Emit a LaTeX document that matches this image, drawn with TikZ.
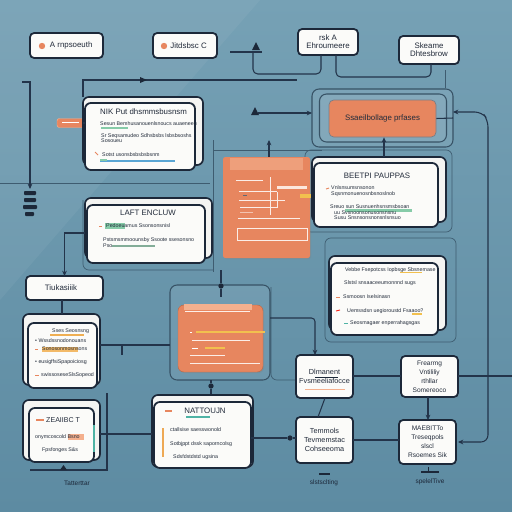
\documentclass[tikz,border=0pt]{standalone}
\usepackage{fontspec}
\setmainfont{Liberation Sans}
\usetikzlibrary{arrows.meta,shadows}
\definecolor{bgA}{HTML}{76A1B5}
\definecolor{bgB}{HTML}{5D8BA2}
\definecolor{navy}{HTML}{1C2839}
\definecolor{org}{HTML}{E7865F}
\definecolor{orgL}{HTML}{F4B08E}
\definecolor{card}{HTML}{FBFBF9}
\definecolor{txt}{HTML}{222B3A}
\definecolor{hlg}{HTML}{86CBA8}
\definecolor{hlb}{HTML}{5AA6D4}
\definecolor{hly}{HTML}{F2C04E}
\definecolor{tealc}{HTML}{4FB3A5}
\definecolor{lineC}{HTML}{23344A}
\definecolor{frameC}{HTML}{3E5C70}
\newcommand\ftitle{\fontsize{6.7}{7.7}\selectfont}
\newcommand\fsmall{\fontsize{4.5}{5.2}\selectfont}
\newcommand\mycard[9]{%
  \node[backc, minimum width={(#8-#6)*0.85pt}, minimum height={(#9-#7)*0.85pt}] (#1b) at ({(#6+#8)/2},{(#7+#9)/2}) {};
  \node[frontc, minimum width={(#4-#2)*0.85pt}, minimum height={(#5-#3)*0.85pt}] (#1) at ({(#2+#4)/2},{(#3+#5)/2}) {};}
\newcommand\mybox[6]{%
  \node[wbox, minimum width={(#4-#2)*0.85pt}, minimum height={(#5-#3)*0.85pt}] (#1) at ({(#2+#4)/2},{(#3+#5)/2}) {#6};}
\tikzset{
  wbox/.style={draw=navy, line width=1.5pt, fill=card, rounded corners=3.5pt, inner sep=0pt, outer sep=0pt, align=center, text=txt, font=\ftitle, drop shadow={opacity=0.25, shadow xshift=1pt, shadow yshift=-1pt}},
  backc/.style={draw=navy, line width=1.4pt, fill=card!94!gray, rounded corners=5pt, inner sep=0pt, outer sep=0pt, drop shadow={opacity=0.2, shadow xshift=1pt, shadow yshift=-1pt}},
  frontc/.style={draw=navy, line width=1.5pt, fill=card, rounded corners=5pt, inner sep=0pt, outer sep=0pt},
  tl/.style={anchor=west, inner sep=0pt, text=txt, font=\fsmall},
  ttl/.style={inner sep=0pt, text=txt, font=\ftitle},
  lbl/.style={inner sep=0pt, text=navy, font=\fontsize{5.5}{6}\selectfont},
  con/.style={draw=lineC, line width=0.9pt},
  arr/.style={con, -{Stealth[length=4.5pt,width=4pt]}},
  frm/.style={draw=frameC, line width=0.6pt, rounded corners=5pt},
  frmnode/.style={draw=frameC!80!navy, line width=0.9pt, rounded corners=6pt, fill=white, fill opacity=0.07, inner sep=0pt, outer sep=0pt},
  docl/.style={draw=white!85!org, line width=0.7pt},
  dotn/.style={circle, fill=navy, inner sep=0pt, minimum size=4.5pt},
}
\begin{document}
\begin{tikzpicture}[x=0.85pt,y=-0.85pt]
\useasboundingbox (0,0) rectangle (512,512);
\shade[top color=bgA, bottom color=bgB] (0,0) rectangle (512,512);
\fill[white, opacity=0.05] (0,0) -- (260,0) -- (0,300) -- cycle;

% ---------- background frames ----------
\draw[frm] (0,183) -- (210,183);
\draw[frm] (213,140) -- (213,272);
\draw[frm] (83,200) -- (83,270) -- (213,270);
\draw[frm] (213,150) -- (322,150);
\draw[frm] (305,150) rectangle (452,232);
\draw[frm] (325,238) rectangle (456,342);
\draw[frm] (271,287) -- (271,380) -- (330,380);
\draw[frm] (445,70) -- (445,88);
\node[frmnode, minimum width={141*0.85pt}, minimum height={58*0.85pt}] (fssa) at (382.5,118) {};
\node[frmnode, minimum width={127*0.85pt}, minimum height={48*0.85pt}] (fssa2) at (383,118) {};
\node[frmnode, minimum width={100*0.85pt}, minimum height={95*0.85pt}] (forg) at (220,332.5) {};

% ---------- connectors ----------
\coordinate (s1) at (22,82);
\coordinate (stk) at (30,189);
\draw[arr] (s1) -- (30,82) -- (stk);
\fill[navy, rounded corners=0.8pt] (24,191) rectangle (36,195);
\fill[navy, rounded corners=0.8pt] (24,198) rectangle (36,202);
\fill[navy, rounded corners=0.8pt] (23,205) rectangle (37,209);
\fill[navy, rounded corners=0.8pt] (25,212) rectangle (34,216);

\coordinate (j1) at (230,52);
\coordinate (j2) at (262,52);
\draw[con] (j1) -- (j2);
\fill[navy] (252,50) -- (260,50) -- (256,42) -- cycle;

% top boxes
\mybox{b1}{30}{33}{103}{58}{\hspace{8pt}A rnpsoeuth}
\fill[org] (42,46) circle (3.2);
\mybox{b2}{153}{33}{217}{58}{\hspace{6pt}Jitdsbsc C}
\fill[org] (164,46) circle (3.2);
\mybox{rsk}{298}{29}{358}{55}{rsk A\\[-1pt]Ehroumeere}
\mybox{skm}{399}{36}{459}{64}{Skeame\\[-1pt]Dhtesbrow}

\draw[con, rounded corners=4pt] (253,52) -- (253,74) -- (321,74) -- (rsk.south -| 321,74);
\draw[con, rounded corners=4pt] (rsk.south -| 336,74) -- (336,77) -- (431,77) -- (skm.south -| 431,77);

\coordinate (tf) at (297,80);
\draw[con] (83,97) -- (83,80) -- (tf);
\fill[navy] (140,77) -- (147,80) -- (140,83) -- cycle;

\coordinate (c5s) at (258,113);
\draw[arr] (c5s) -- (fssa.west |- 0,113);
\fill[navy] (251,115) -- (259,115) -- (255,107) -- cycle;

% orange box in frame
\node[draw=navy!60, line width=0.6pt, fill=org, rounded corners=4pt, minimum width={107*0.85pt}, minimum height={37*0.85pt}, inner sep=0pt, text=txt, font=\ftitle] (ssa) at (382.5,118.5) {Ssaeilbollage prfases};
\draw[con] (ssa.east) -- (fssa.east);

% right long connector
\draw[con, {Stealth[length=4.5pt,width=4pt]}-{Stealth[length=4.5pt,width=4pt]}, rounded corners=6pt] (fssa.east |- 0,112) -- (482,112) -- (488,120) -- (488,442) -- (458,442);

% ---------- NIK card ----------
\node[draw=orgL, fill=org, rounded corners=2pt, minimum width={28*0.85pt}, minimum height={9*0.85pt}, inner sep=0pt] (tag) at (71,123) {};
\draw[white, line width=0.8pt] (62,122) -- (79,122);
\mycard{nik}{85}{103}{195}{170}{83}{97}{203}{165}
\draw[con] (tag.east) -- (nikb.west |- tag.east);
\node[ttl, anchor=west] (nikT) at (100,112) {NIK Put dhsmmsbusnsm};
\fill[hlg] (101,127) rectangle (128,129);
\node[tl] (nik1) at (100,124) {Sesun Bemhusanouenlsnoucs auaeneeu};
\node[tl] (nik2) at (101,136) {Sr Seqsamudeo Sdhsbsbs lsbsbsoshs};
\node[tl] (nik3) at (101,141) {Sosoueu};
\draw[org, line width=0.8pt] (95,152) -- (98,155);
\node[tl] (nik4) at (102,155) {Sotst usonsbsbsbsbsnm};
\draw[hlb, line width=1.3pt] (100,161) -- (175,161);
\draw[hlg, line width=1.3pt] (100,160) -- (107,160);

% ---------- orange document ----------
\node[fill=org, rounded corners=2pt, minimum width={87*0.85pt}, minimum height={101*0.85pt}, inner sep=0pt, drop shadow={opacity=0.25, shadow xshift=1pt, shadow yshift=-1pt}] (odoc) at (266.5,207.5) {};
\fill[orgL, opacity=0.6] (230,158) rectangle (303,170);
\draw[docl] (236,180) -- (263,180);
\fill[white!70!orgL] (277,186) rectangle (307,189);
\draw[docl] (239,191) -- (277,191);
\draw[navy!70, line width=0.8pt] (243,195) -- (247,195);
\draw[docl] (239,200) -- (285,200);
\draw[docl] (240,207) -- (277,207);
\draw[docl, opacity=0.6] (240,212) -- (253,212);
\draw[docl] (238,218) -- (300,218);
\draw[docl] (237,228) rectangle (307,240);
\draw[docl] (270,177) -- (270,215);
\draw[docl] (277,192) -- (277,208);
\fill[hly] (300,194) rectangle (313,198);
\coordinate (c9e) at (269,140);
\draw[arr] (odoc.north -| 269,0) -- (c9e);

% ---------- BEETPI card ----------
\mycard{beet}{314}{163}{438}{227}{312}{157}{446}{222}
\draw[arr] (beetb.north -| 384,0) -- (ssa.south -| 384,0);
\node[ttl] (beetT) at (377,176) {BEETPI PAUPPAS};
\draw[org, line width=0.8pt] (326,189) -- (329,188);
\node[tl] (be1) at (331,188) {Vnlsnsumsnsonon};
\node[tl] (be2) at (331,194) {Sqsnmonuenosnbsnoslnob};
\fill[hlg] (345,209) rectangle (412,211.5);
\node[tl] (be3) at (330,207) {Sreuo sun Susnuenhsnsmsbsoan};
\node[tl] (be4) at (334,213) {uu Svsnoonsonusonsnsnu};
\node[tl] (be5) at (334,218) {Susu Snsnsonsnonsnlsnsuo};

% ---------- LAFT card ----------
\mycard{laft}{87}{205}{205}{263}{85}{198}{212}{258}
\node[ttl] (laftT) at (148,213) {LAFT ENCLUW};
\draw[org, line width=0.8pt] (99,226) -- (102,226);
\fill[hlg] (105,223) rectangle (125,229);
\node[tl] (la1) at (106,226) {Pedoeuamus Ssonsonsnisl};
\node[tl] (la2) at (103,240) {Pstsmsmmoounsby Ssoote ssesonsno};
\node[tl] (la3) at (103,246) {Pso};
\draw[hlg!60!gray, line width=1.2pt] (112,246) -- (155,246);

% ---------- Tiukasiiik ----------
\mybox{tiuk}{26}{276}{103}{300}{Tiukasiiik\hspace{6pt}}
\draw[arr] (laftb.west |- 0,233) -- (64.5,233) -- (tiuk.north);

% ---------- list card ----------
\mycard{lst}{331}{263}{438}{335}{329}{256}{446}{330}
\node[tl] (ls1) at (345,270) {Vebbe Fsepotcss Iopbsge Sbsnemase};
\draw[hly, line width=1pt] (400,272.5) -- (422,272.5);
\node[tl] (ls2) at (344,283) {Slstsl snsaaceeumonnnd sugs};
\draw[org, line width=0.8pt] (336,297) -- (340,297);
\node[tl] (ls3) at (343,297) {Ssmoosn Iselsinasn};
\draw[red!70!org, line width=0.8pt] (336,311) -- (340,310);
\node[tl] (ls4) at (347,311) {Uemssdsn uegioroustd Fsaaoo?};
\fill[hly] (412,313) rectangle (422,315);
\draw[tealc, line width=0.8pt] (344,323) -- (348,323);
\node[tl] (ls5) at (350,323) {Seosmagaer enperrahagsgas};

% ---------- card 11 ----------
\mycard{cel}{28}{323}{97}{388}{23}{314}{100}{385}
\draw[con] (tiuk.south -| 62,0) -- (celb.north -| 62,0);
\fill[hly!70!org] (50,334) rectangle (84,336);
\node[tl] (ce1) at (52,331) {Sses Seosnsng};
\node[tl] (ce2) at (35,341) {• Wssdssnodonouans};
\draw[org, line width=0.8pt] (35,349) -- (38,349);
\fill[hly!60!orgL] (42,347) rectangle (78,352);
\node[tl] (ce3) at (42,349) {Sonosonmosnsons};
\node[tl] (ce4) at (35,362) {• eusigffsiSpapoiciosg};
\draw[org, line width=0.8pt] (35,375) -- (39,375);
\node[tl] (ce5) at (41,375) {swissoseseSlsSopeod};

% ---------- orange block ----------
\node[fill=org, draw=org!80!black, line width=0.4pt, rounded corners=5pt, minimum width={85*0.85pt}, minimum height={67*0.85pt}, inner sep=0pt, drop shadow={opacity=0.25, shadow xshift=1pt, shadow yshift=-1pt}] (oblk) at (220.5,338.5) {};
\fill[orgL] (184,304) rectangle (252,310);
\draw[white!80!orgL, line width=0.7pt] (185,311) -- (250,311);
\draw[white, line width=0.8pt] (190,332) -- (192,332);
\draw[hly, line width=1pt] (196,332) -- (265,332);
\draw[white!85!org, line width=0.6pt] (192,340) -- (250,340);
\draw[white, line width=0.8pt] (192,348) -- (198,348);
\draw[hly, line width=1.6pt] (205,348) -- (225,348);
\draw[white!85!org, line width=0.6pt] (190,355) -- (225,355);
\draw[white!85!org, line width=0.6pt] (190,363) -- (260,363);
\draw[con] (celb.east |- 0,345) -- (forg.west |- 0,345);
\draw[con] (122,345) -- (122,355);
\coordinate (ot) at (221,270);
\node[dotn] (od1) at (221,286) {};
\draw[con] (ot) -- (od1) -- (221,297);
\node[dotn] (od2) at (211,386) {};
\coordinate (ob) at (211,398);
\draw[con] (forg.south -| 211,0) -- (od2) -- (ob);

% ---------- right boxes ----------
\mybox{b16}{296}{355}{353}{398}{\fontsize{6.2}{9}\selectfont Dlmanent\\\fontsize{6.2}{9}\selectfont Fvsmeeliafocce}
\draw[navy, line width=0.6pt] (315,377.5) -- (338,377.5);
\draw[orgL, line width=0.5pt] (305,389) -- (345,389);
\mybox{b17}{401}{356}{458}{397}{\fontsize{5.6}{7}\selectfont Frearmg\\\fontsize{5.6}{7}\selectfont Vntililiy \\\fontsize{5.6}{7}\selectfont rthllar\\\fontsize{5.6}{7}\selectfont Somereoco}
\mybox{b18}{296}{417}{353}{463}{\fontsize{6.2}{8}\selectfont Temmols\\\fontsize{6.2}{8}\selectfont Tevmemstac\\\fontsize{6.2}{8}\selectfont Cohseeoma}
\mybox{b19}{399}{420}{456}{464}{\fontsize{5.6}{7}\selectfont MAEBITTo\\\fontsize{5.6}{7}\selectfont Treseqpols\\\fontsize{5.6}{7}\selectfont slscl\\\fontsize{5.6}{7}\selectfont Rsoemes Sik}
\draw[arr, rounded corners=3pt] (forg.east |- 0,318) -- (315,318) -- (b16.north -| 315,0);
\draw[con] (b16.east |- 0,376) -- (b17.west |- 0,376);
\draw[arr] (b17.south -| 428,0) -- (b19.north -| 428,0);
\draw[con] (b16.south -| 325,0) -- (b18.north -| 318,0);
\draw[con] (b18.east |- 0,440) -- (b19.west |- 0,440);
\coordinate (c19e) at (512,376);
\draw[con] (b17.east |- 0,376) -- (c19e);

% ---------- card 14 ----------
\mycard{zea}{29}{408}{94}{462}{23}{400}{100}{460}
\draw[org, line width=0.9pt] (36,420) -- (44,420);
\node[ttl, anchor=west, font=\fontsize{6}{7}\selectfont] (zeaT) at (46,420) {ZEAIIBC T};
\fill[orgL] (68,434) rectangle (84,440);
\node[tl] (ze1) at (35,437) {onymcoscold Bsno};
\node[tl] (ze2) at (42,450) {Fpsfonges S\&s};
\draw[tealc, line width=1.5pt] (94,425) -- (94,452);
\draw[con] (30,470) -- (107,470) -- (107,393);
\fill[navy] (60,470) -- (67,470) -- (63.5,465) -- cycle;

% ---------- card 15 ----------
\mycard{nat}{154}{402}{251}{468}{152}{395}{253}{467}
\draw[con] (zeab.east |- 0,434) -- (natb.west |- 0,434);
\draw[org, line width=0.9pt] (165,411) -- (172,411);
\node[ttl] (natT) at (205,411) {NATTOUJN};
\draw[tealc, line width=0.9pt] (186,417) -- (210,417);
\draw[hly!60!org, line width=1.5pt] (163,428) -- (163,457);
\node[tl] (na1) at (170,430) {ctallsise saesswonold};
\node[tl] (na2) at (170,444) {Sotbjppt dssk saporncolsg};
\node[tl] (na3) at (173,457) {Sdsfdstdstd ugsina};
\node[dotn] (dot1) at (290,438) {};
\draw[con] (nat.east |- 0,438) -- (dot1) -- (b18.west |- 0,438);

% ---------- bottom labels ----------
\node[lbl] (l1) at (77,483) {Tatterttar};
\node[lbl] (l2) at (324,483) {slstsclting};
\node[lbl] (l3) at (430,482) {spelelTive};
\draw[navy, line width=1.2pt] (319,474) -- (330,474);
\draw[navy, line width=1pt] (421,472) -- (439,472);
\draw[navy, line width=0.8pt] (428,467) -- (428,472);
\end{tikzpicture}
\end{document}
